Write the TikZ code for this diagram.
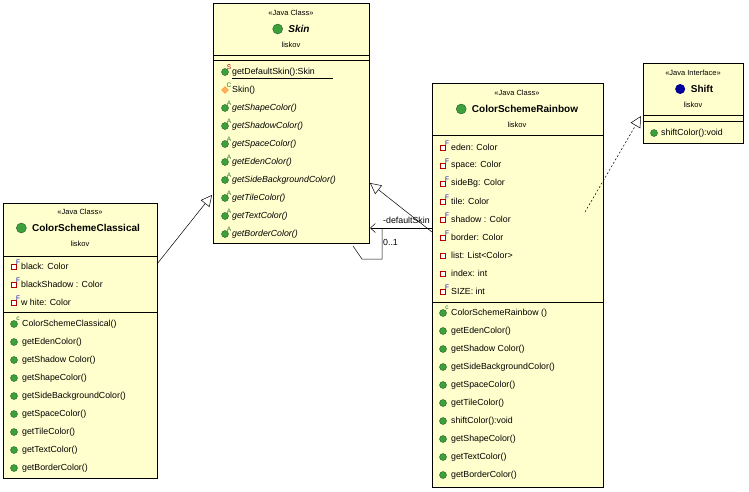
\documentclass[tikz,border=0pt]{standalone}
\usepackage{fontspec}
\setmainfont{Liberation Sans}
\usetikzlibrary{arrows.meta,shapes.geometric}
\definecolor{boxfill}{RGB}{255,255,206}
\definecolor{icg}{RGB}{60,160,60}
\begin{document}
\begin{tikzpicture}[x=1pt,y=-1pt,
  box/.style={draw=black,fill=boxfill,anchor=north west,inner sep=0,line width=0.8pt},
  st/.style={font=\fontsize{7.5}{8}\selectfont,anchor=center},
  ttl/.style={font=\fontsize{10}{11}\selectfont\bfseries,anchor=center},
  pk/.style={font=\fontsize{7.5}{8}\selectfont,anchor=center},
  mem/.style={font=\fontsize{8.8}{9}\selectfont,anchor=west,inner sep=0},
  ic/.style={circle,fill=icg,draw=icg!60!black,inner sep=0,minimum size=7pt},
  tic/.style={circle,fill=icg,draw=icg!60!black,inner sep=0,minimum size=10pt,left=2pt},
  fi/.style={rectangle,fill=white,draw=red!70!black,inner sep=0,minimum size=5pt},
  gen/.style={-{Triangle[open,length=11pt,width=11pt]},line width=0.5pt},
  sup/.style={font=\fontsize{6.5}{7}\selectfont,inner sep=0}]
\useasboundingbox (0,0) rectangle (749,491);
\fill[white] (0,0) rectangle (749,491);
% Skin
\node[box,minimum width=156,minimum height=240] (skin) at (213,3) {};
\draw (213,55)--(369,55) (213,60)--(369,60);
\node[st] (s1) at (291,13) {<<Java Class>>};
\node[ttl] (s2) at (299,29) {\itshape Skin};
\node[tic] (s2i) at (s2.west) {};
\node[pk] (s3) at (291,45) {liskov};
\foreach \y/\t/\s [count=\i] in {72/getDefaultSkin():Skin/S,108/getShapeColor()/A,126/getShadowColor()/A,144/getSpaceColor()/A,162/getEdenColor()/A,180/getSideBackgroundColor()/A,198/getTileColor()/A,216/getTextColor()/A,234/getBorderColor()/A}{
  \node[ic] (si\i) at (225,\y) {};
  \node[sup,text=icg!70!black] (ss\i) at (229,\y-5) {\s};
  \node[mem] (sm\i) at (232,\y) {\ifnum\i=1 \t\else\itshape\t\fi};
}
\draw (232,78)--(333,78);
\node[sup,text=red!70!black,fill=boxfill] at (229,67) {S};
\node[diamond,fill=orange!60,draw=orange,inner sep=0,minimum size=7pt] (sdi) at (225,90) {};
\node[sup,text=icg!70!black] (sdc) at (229,85) {C};
\node[mem] (sctor) at (232,90) {Skin()};
% Classical
\node[box,minimum width=154,minimum height=275] (cl) at (3,203) {};
\draw (3,256)--(157,256) (3,312)--(157,312);
\node[st] (c1) at (80,212) {<<Java Class>>};
\node[ttl] (c2) at (86,228) {ColorSchemeClassical};
\node[tic] (c2i) at (c2.west) {};
\node[pk] (c3) at (80,244) {liskov};
\foreach \y/\t [count=\i] in {266/black: Color,284/blackShadow : Color,302/w hite: Color}{
  \node[fi] (cf\i) at (14,\y+1) {};
  \node[sup,text=blue!70!black] (cfs\i) at (18,\y-4) {F};
  \node[mem] (cft\i) at (21,\y) {\t};
}
\foreach \y/\t [count=\i] in {324/ColorSchemeClassical(),342/getEdenColor(),360/getShadow Color(),378/getShapeColor(),396/getSideBackgroundColor(),414/getSpaceColor(),432/getTileColor(),450/getTextColor(),468/getBorderColor()}{
  \node[ic] (ci\i) at (14,\y) {};
  \node[mem] (cm\i) at (22,\y) {\t};
}
\node[sup,text=icg!70!black] at (18,319) {c};
% Rainbow
\node[box,minimum width=171,minimum height=404] (rb) at (432,83) {};
\draw (432,135)--(603,135) (432,302)--(603,302);
\node[st] (r1) at (517,93) {<<Java Class>>};
\node[ttl] (r2) at (525,109) {ColorSchemeRainbow};
\node[tic] (r2i) at (r2.west) {};
\node[pk] (r3) at (517,125) {liskov};
\foreach \y/\t/\s [count=\i] in {147/eden: Color/F,165/space: Color/F,183/sideBg: Color/F,201/tile: Color/F,219/shadow : Color/F,237/border: Color/F,255/list: List<Color>/,273/index: int/,291/SIZE: int/F}{
  \node[fi] (rf\i) at (443,\y+1) {};
  \node[sup,text=blue!70!black] (rfs\i) at (447,\y-4) {\s};
  \node[mem] (rft\i) at (451,\y) {\t};
}
\foreach \y/\t [count=\i] in {313/ColorSchemeRainbow (),331/getEdenColor(),349/getShadow Color(),367/getSideBackgroundColor(),385/getSpaceColor(),403/getTileColor(),421/shiftColor():void,439/getShapeColor(),457/getTextColor(),475/getBorderColor()}{
  \node[ic] (ri\i) at (443,\y) {};
  \node[mem] (rm\i) at (451,\y) {\t};
}
\node[sup,text=icg!70!black] at (447,308) {c};
% Shift
\node[box,minimum width=100,minimum height=80] (sh) at (643,63) {};
\draw (643,115)--(743,115) (643,121)--(743,121);
\node[st] (h1) at (693,73) {<<Java Interface>>};
\node[ttl] (h2) at (702,89) {Shift};
\node[circle,fill=blue!60!black,inner sep=0,minimum size=10pt,left=2pt] (h2i) at (h2.west) {};
\node[pk] (h3) at (693,105) {liskov};
\node[ic] (hi1) at (654,133) {};
\node[mem] (hm1) at (661,133) {shiftColor():void};
% connectors
\coordinate (cA) at (157,264);
\coordinate (sA) at (212,195);
\draw[gen] (cA) -- (sA);
\coordinate (rA) at (432,232);
\coordinate (sB) at (370,183);
\draw[gen] (rA) -- (sB);
\coordinate (rB) at (432,228);
\coordinate (aM) at (382,228);
\coordinate (sC) at (370,228);
\draw[line width=0.5pt] (rB) -- (aM);
\draw[-{Straight Barb[length=5pt,width=9pt]},line width=0.5pt] (aM) -- (sC);
\coordinate (l1) at (382,259);
\coordinate (l2) at (362,259);
\coordinate (l3) at (353,246);
\draw[line width=0.5pt] (aM)--(l1)--(l2)--(l3);
\node[mem] (lab1) at (383,220) {-defaultSkin};
\node[mem] (lab2) at (383,242) {0..1};
\coordinate (rC) at (585,212);
\coordinate (hA) at (641,116);
\draw[gen,dashed,dash pattern=on 2pt off 2pt] (rC) -- (hA);
\end{tikzpicture}
\end{document}
